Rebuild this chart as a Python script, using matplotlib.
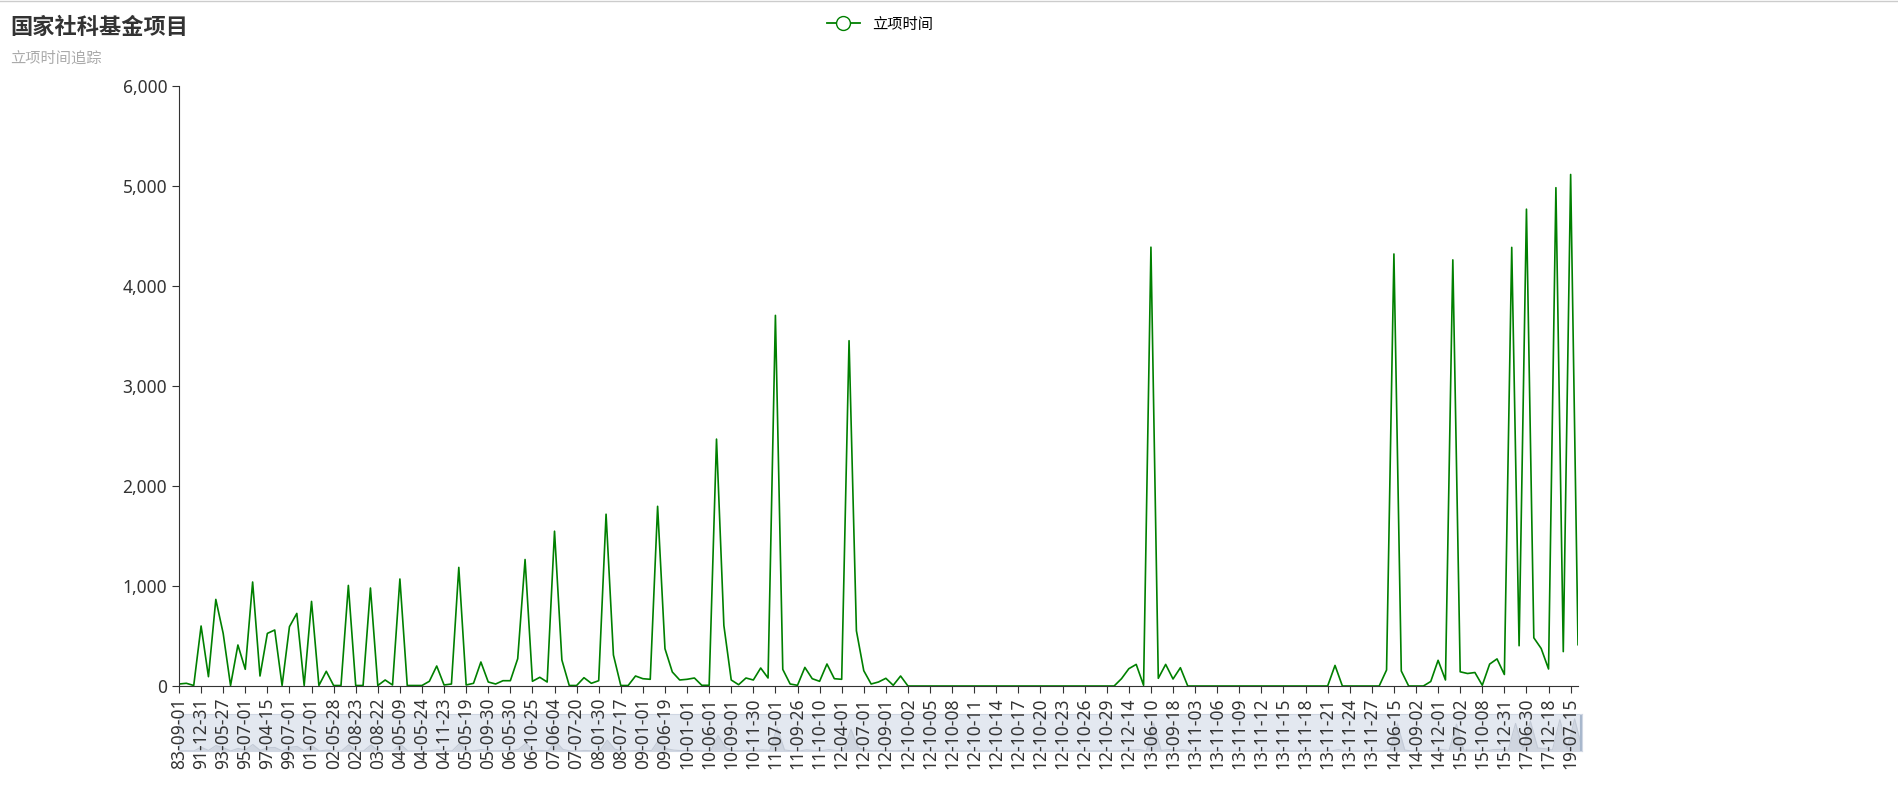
import matplotlib
matplotlib.use("Agg")
import matplotlib.pyplot as plt
from matplotlib.ticker import FuncFormatter
import numpy as np

plt.rcParams['font.family'] = ['Noto Sans CJK SC', 'DejaVu Sans']

tick_labels = ["83-09-01","91-12-31","93-05-27","95-07-01","97-04-15","99-07-01","01-07-01","02-05-28",
"02-08-23","03-08-22","04-05-09","04-05-24","04-11-23","05-05-19","05-09-30","06-05-30","06-10-25",
"07-06-04","07-07-20","08-01-30","08-07-17","09-01-01","09-06-19","10-01-01","10-06-01","10-09-01",
"10-11-30","11-07-01","11-09-26","11-10-10","12-04-01","12-07-01","12-09-01","12-10-02","12-10-05",
"12-10-08","12-10-11","12-10-14","12-10-17","12-10-20","12-10-23","12-10-26","12-10-29","12-12-14",
"13-06-10","13-09-18","13-11-03","13-11-06","13-11-09","13-11-12","13-11-15","13-11-18","13-11-21",
"13-11-24","13-11-27","14-06-15","14-09-02","14-12-01","15-07-02","15-10-08","15-12-31","17-06-30",
"17-12-18","19-07-15"]

values = ([20,27,5,600,93,866,526,5,410,167,1040,100,526,560,5,593,726,5,846,5,147,5,5,1006,5,5,980,5,60,10,1070,5]
 + [5,5,47,200,10,20,1186,10,27,240,40,20,53,53,273,1265,47,87,40,1548,260,5,5,83,27,53,1718,310,5,5,100]
 + [73,67,1797,373,140,60,67,80,7,7,2469,605,60,13,80,60,180,80,3706,166,20,7,186,73,47,220,73,67,3453,552,153,20]
 + [40,77,7,100] + [0]*29
 + [73,173,216,7,4388,77,216,70,183,0] + [0]*19 + [206]
 + [0,0,0,0,0,0,160,4320,150,0,0,0,45,257,60,4261,142,125,135,7,219,271,115,4386,403,4768,482,375,170,4983,344,5115,413])

series_name = "立项时间"
title = "国家社科基金项目"
subtitle = "立项时间追踪"

n = len(values)
x = np.arange(n)
green = "#008000"

fig = plt.figure(figsize=(18.99, 8.06), dpi=100)

# slider
sax = fig.add_axes([179/1899, 1-751/806, 1403/1899, 37/806], zorder=0)
sax.set_facecolor("#e3e8f0")
sax.fill_between(x, values, 0, color="#d0d6e0", lw=0)
sax.plot(x, values, color="#c3cad6", lw=0.8)
sax.set_xlim(0, n - 1)
sax.set_ylim(0, max(values) * 1.15)
sax.set_xticks([]); sax.set_yticks([])
for s in sax.spines.values():
    s.set_color("#d0d7e3")
sax.axvline(n - 1, color="#a7b7cc", lw=3)

ax = fig.add_axes([179/1899, 1-686/806, 1399/1899, 600/806], zorder=2)
ax.patch.set_alpha(0)
ax.plot(x, values, color=green, lw=1.2)
ax.set_xlim(0, n - 1)
ax.set_ylim(0, 6000)
ax.set_yticks(np.arange(0, 6001, 1000))
ax.yaxis.set_major_formatter(FuncFormatter(lambda v, p: f"{int(v):,}"))
ax.set_xticks(np.arange(0, 3 * len(tick_labels), 3))
ax.set_xticklabels(tick_labels, rotation=90)
ax.tick_params(axis='both', colors="#333333", labelsize=12.5, length=5, direction='out')
for lab in ax.get_xticklabels() + ax.get_yticklabels():
    lab.set_family(['Noto Sans', 'DejaVu Sans'])
for side in ("top", "right"):
    ax.spines[side].set_visible(False)
for side in ("left", "bottom"):
    ax.spines[side].set_color("#333333")

fig.text(10/1899, 1-27/806, title, fontsize=16, fontweight='bold', color="#333333", va='center')
fig.text(10/1899, 1-58/806, subtitle, fontsize=11, color="#aaaaaa", va='center')
ax.plot([], [], color=green, marker='o', markerfacecolor='white', markersize=10, lw=1.3, label=series_name)
ax.legend(loc='center', bbox_to_anchor=(880/1899, 1-24/806), bbox_transform=fig.transFigure,
          frameon=False, fontsize=11, handlelength=2.2)
fig.add_artist(plt.Line2D([0, 1], [1-1/806, 1-1/806], color="#cccccc", lw=1, transform=fig.transFigure))

fig.savefig("out.png", dpi=100)
